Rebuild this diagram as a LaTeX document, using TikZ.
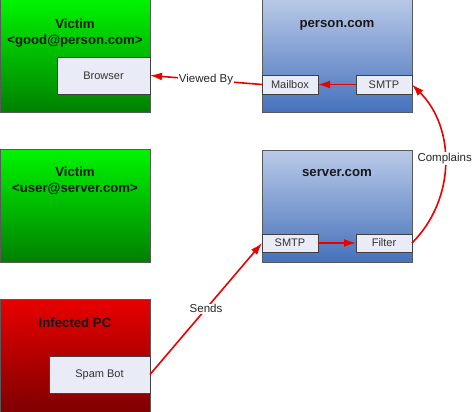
\documentclass[tikz,border=0pt]{standalone}
\usepackage{fontspec}
\setmainfont{Liberation Sans}
\usetikzlibrary{arrows.meta, positioning}

\definecolor{greentop}{RGB}{0,245,0}
\definecolor{greenbot}{RGB}{0,128,0}
\definecolor{bluetop}{RGB}{186,202,232}
\definecolor{bluebot}{RGB}{70,114,188}
\definecolor{redtop}{RGB}{232,0,0}
\definecolor{redbot}{RGB}{125,0,0}
\definecolor{panel}{RGB}{233,236,246}
\definecolor{linkred}{RGB}{235,0,0}

\tikzset{
  host/.style={draw=black!65,line width=0.8pt,minimum width=150pt,inner sep=0pt,outer sep=0pt},
  victim/.style={host,top color=greentop,bottom color=greenbot},
  server/.style={host,top color=bluetop,bottom color=bluebot},
  infected/.style={host,top color=redtop,bottom color=redbot},
  title/.style={align=center,text=black!90,font=\bfseries\fontsize{13.2}{16}\selectfont},
  app/.style={draw=black!75,line width=0.8pt,fill=panel,inner sep=0pt,outer sep=0pt,
    text=black!80,font=\fontsize{11}{12}\selectfont},
  flow/.style={-{Latex[length=12pt,width=8pt]},linkred,line width=1.6pt},
  tag/.style={fill=white,inner sep=1pt,text=black!85,font=\fontsize{11.5}{13}\selectfont}
}

\begin{document}
\begin{tikzpicture}[x=1pt,y=-1pt]
  \useasboundingbox (0,0) rectangle (474,412);
  % hosts
  \node[victim,minimum height=114pt] (victimA) at (75,55) {};
  \node[victim,minimum height=113pt] (victimB) at (75,205.5) {};
  \node[infected,minimum height=116pt] (infected) at (75,357) {};
  \node[server,minimum height=114pt] (person) at (337,55) {};
  \node[server,minimum height=112pt] (serverhost) at (337,206) {};
  % host names
  \node[title] (victimAname) at (75,33) {Victim\\<good@person.com>};
  \node[title] (victimBname) at (75,181) {Victim\\<user@server.com>};
  \node[title] (infectedname) at (75,323) {Infected PC};
  \node[title] (personname) at (337,25) {person.com};
  \node[title] (servername) at (337,173) {server.com};
  % programs
  \node[app,minimum width=93pt,minimum height=37pt] (browser) at (103.5,75.5) {Browser};
  \node[app,minimum width=101pt,minimum height=37pt] (spambot) at (99.5,374.5) {Spam Bot};
  \node[app,minimum width=56pt,minimum height=19pt] (mailbox) at (290,84.5) {Mailbox};
  \node[app,minimum width=56pt,minimum height=19pt] (smtpA) at (384,84.5) {SMTP};
  \node[app,minimum width=56pt,minimum height=18pt] (smtpB) at (290,243) {SMTP};
  \node[app,minimum width=56pt,minimum height=18pt] (filter) at (384,243) {Filter};
  % mail path
  \draw[flow] (spambot.east) -- node[tag]{Sends} (smtpB.west);
  \draw[flow] (smtpB.east) -- (filter.west);
  \draw[flow] (filter.east) to[bend right=45] node[tag,pos=0.53]{Complains} (smtpA.east);
  \draw[flow] (smtpA.west) -- (mailbox.east);
  \draw[flow] (mailbox.west) -- node[tag]{Viewed By} (browser.east);
\end{tikzpicture}
\end{document}
